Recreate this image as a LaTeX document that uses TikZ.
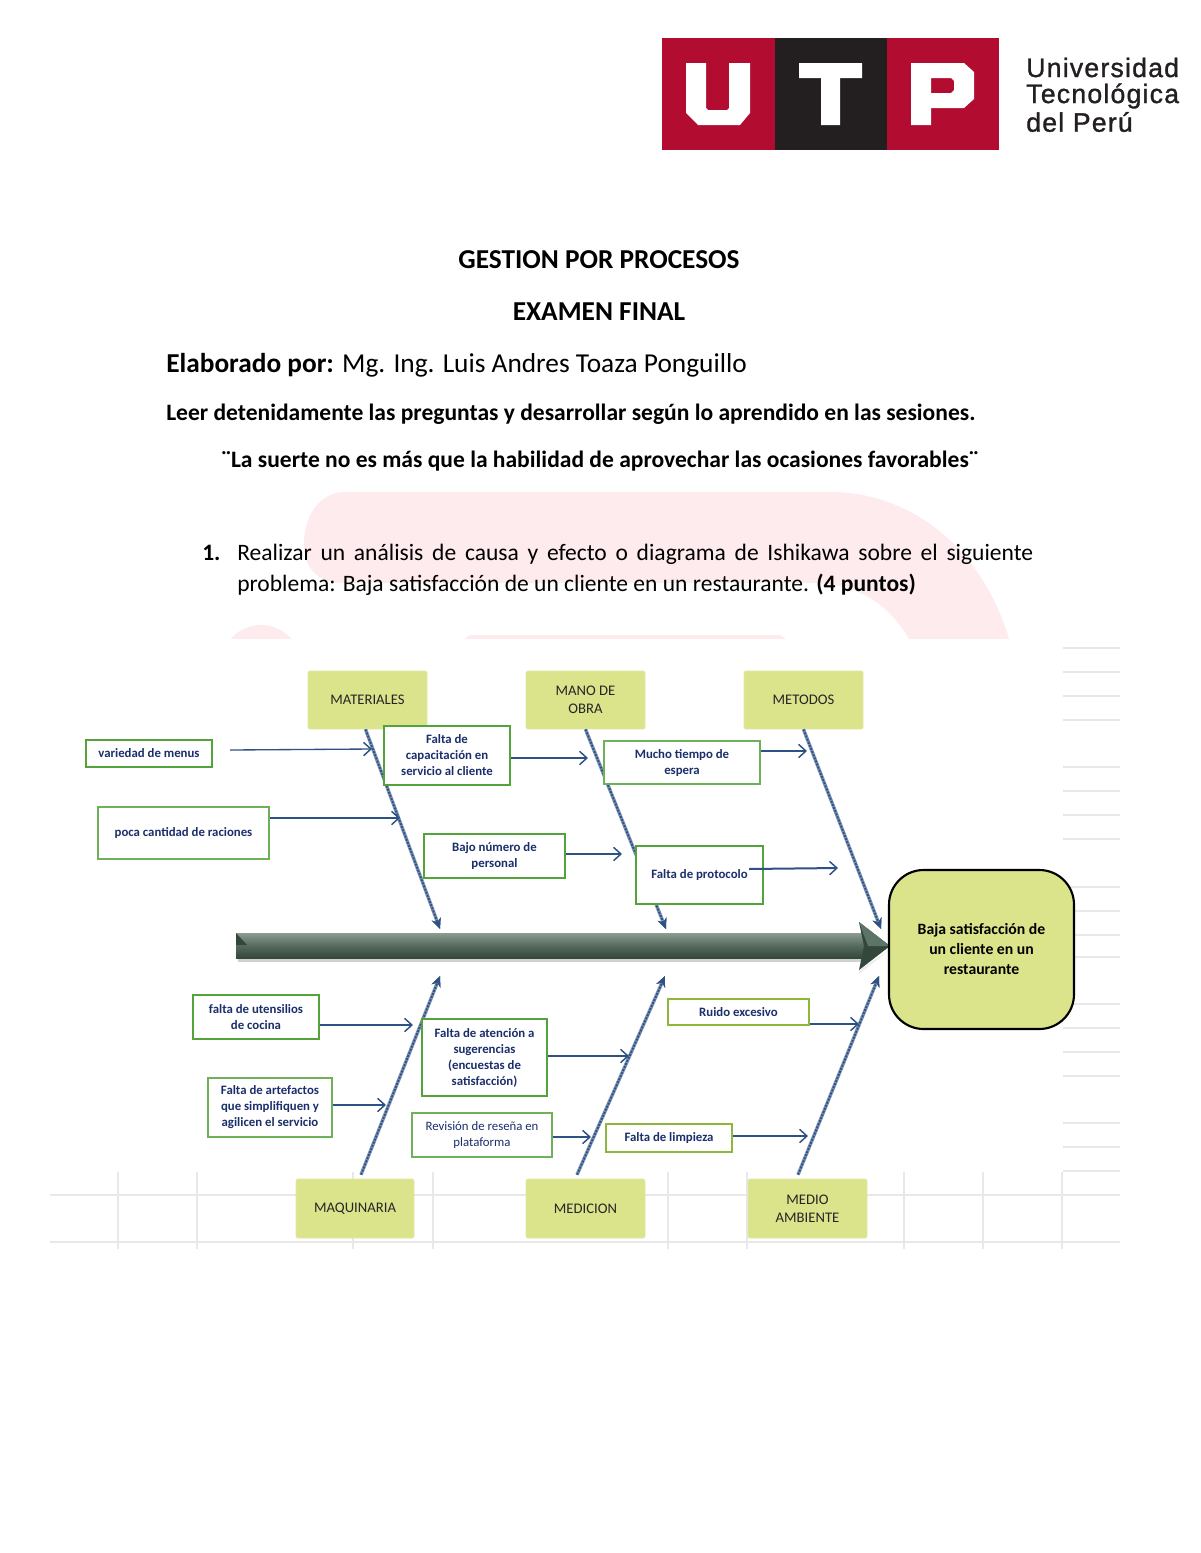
\documentclass[tikz,border=0pt]{standalone}
\usepackage{fontspec}
\setmainfont{Carlito}
\newfontfamily\logofont[FakeBold=1.2,LetterSpace=4.5]{Liberation Sans}
\usetikzlibrary{arrows.meta,calc}
\definecolor{wm}{HTML}{FEEBEE}
\definecolor{gridc}{HTML}{E8E8E8}
\definecolor{catfill}{HTML}{DBE38B}
\definecolor{navy}{HTML}{1B2F6B}
\definecolor{arrowc}{HTML}{2F5284}
\definecolor{boneL}{HTML}{8296B6}
\definecolor{greenA}{HTML}{54A33A}
\definecolor{greenB}{HTML}{8DB83C}
\definecolor{utpred}{HTML}{B20D30}
\definecolor{utpblack}{HTML}{231F20}
\definecolor{spineTop}{HTML}{8C9C90}
\definecolor{spineMid}{HTML}{566B5E}
\definecolor{spineDark}{HTML}{33473B}
\definecolor{spineFacet}{HTML}{5D7568}
\tikzset{
  catbox/.style={fill=catfill,draw=catfill!80!white,line width=0.5pt,rounded corners=1.5pt,align=center,
    font=\fontsize{11}{13.5}\selectfont,text=black!85,inner sep=0pt},
  causebox/.style={fill=white,draw=greenA,line width=1.7pt,align=center,inner sep=0pt,
    font=\fontsize{9.6}{12}\selectfont\bfseries,text=navy},
  causelight/.style={causebox,line width=1.1pt,draw=greenA!85!white},
  causelime/.style={causebox,line width=1.7pt,draw=greenB},
  boneline/.style={line width=2.6pt,draw=boneL,-{Stealth[length=8pt,width=7pt,color=arrowc]},
    postaction={draw=arrowc,line width=1.4pt,dash pattern=on 1.6pt off 0.9pt}},
  twig/.style={draw=arrowc,line width=1.5pt,-{Straight Barb[length=5.5pt,width=10pt,line width=1.1pt]}},
  twigthin/.style={twig,line width=1pt},
  grline/.style={draw=gridc,line width=0.9pt},
  headtext/.style={font=\fontsize{20.5}{24}\selectfont\bfseries,inner sep=0pt,text=black},
  logotext/.style={font=\logofont\fontsize{20}{20}\selectfont,text=utpblack,anchor=west,inner sep=0pt},
  logoglyph/.style={fill=white,draw=none}
}
% \pbox{name}{style}{x1}{y1}{x2}{y2}{text}
\newcommand{\pbox}[7]{%
  \pgfmathsetmacro{\cxa}{(#3+#5)/2}\pgfmathsetmacro{\cya}{(#4+#6)/2}%
  \pgfmathsetmacro{\wa}{(#5-#3)*0.75}\pgfmathsetmacro{\ha}{(#6-#4)*0.75}%
  \node[#2,minimum width=\wa pt,minimum height=\ha pt] (#1) at (\cxa,\cya) {#7};}
\begin{document}
\begin{tikzpicture}[x=0.75pt,y=-0.75pt]
\useasboundingbox (0,0) rectangle (1200,1553);
\fill[white] (0,0) rectangle (1200,1553);

% watermark, cut off by the diagram picture
\begin{scope}
\clip (0,480) rectangle (1200,638);
\fill[wm] (345,492) -- (830,492) .. controls (920,492) and (990,560) .. (1012,650)
  -- (915,650) .. controls (895,610) and (865,583) .. (810,583)
  -- (345,583) .. controls (320,583) and (304,570) .. (304,545) .. controls (304,515) and (320,492) .. (345,492) -- cycle;
\fill[wm] (261,665) circle (40);
\fill[wm] (450,650) -- (470,635) -- (780,635) -- (802,650) -- cycle;
\end{scope}

% logo
\fill[utpred] (662,38) rectangle (775,150);
\fill[utpblack] (775,38) rectangle (887,150);
\fill[utpred] (887,38) rectangle (999,150);
\fill[logoglyph] (686,63) -- (706,63) -- (706,108) -- (708,110) -- (727,110) -- (729,108) -- (729,63) -- (750,63)
  -- (750,113) -- (740,125) -- (698,125) -- (686,113) -- cycle;
\fill[logoglyph] (799,63) -- (862,63) -- (862,78) -- (840,78) -- (840,125) -- (821,125) -- (821,78) -- (799,78) -- cycle;
\fill[logoglyph,even odd rule] (911,63) -- (964,63) -- (974,72) -- (974,99) -- (964,108) -- (931,108) -- (931,125) -- (911,125) -- cycle
  (931,78) -- (951,78) -- (954,81) -- (954,90) -- (951,93) -- (931,93) -- cycle;
\node[logotext] (l1) at (1026,67.5) {Universidad};
\node[logotext] (l2) at (1026,96) {Tecnológica};
\node[logotext] (l3) at (1026,122) {del Perú};

% heading
\node[headtext] (t1) at (599,260) {GESTION POR PROCESOS};
\node[headtext] (t2) at (599,312) {EXAMEN FINAL};
\node[anchor=west,inner sep=0pt,font=\fontsize{20.5}{24}\selectfont] (t3) at (166,365) {\textbf{Elaborado por:} Mg. Ing. Luis Andres Toaza Ponguillo};
\node[anchor=west,inner sep=0pt,font=\fontsize{17.65}{20}\selectfont\bfseries] (t4) at (166,414) {Leer detenidamente las preguntas y desarrollar según lo aprendido en las sesiones.};
\node[anchor=west,inner sep=0pt,font=\fontsize{17.65}{20}\selectfont\bfseries] (t5) at (221,461) {¨La suerte no es más que la habilidad de aprovechar las ocasiones favorables¨};
\node[anchor=west,inner sep=0pt,font=\fontsize{17.65}{20}\selectfont\bfseries] (q1) at (202,553) {1.};
\node[anchor=north west,inner sep=0pt,text width=597pt,font=\fontsize{17.65}{23.2}\selectfont,align=justify] (q2) at (237,544) {Realizar un análisis de causa y efecto o diagrama de Ishikawa sobre el siguiente\linebreak problema: Baja satisfacción de un cliente en un restaurante. \textbf{(4 puntos)}};

% spreadsheet gridlines
\foreach \yy in {648,672,696,720,767,791,815,839,887,911,935,957,1004,1028,1052,1076,1123,1147,1171}
  \draw[grline] (1063,\yy) -- (1120,\yy);
\foreach \yy in {1195,1242}
  \draw[grline] (50,\yy) -- (1120,\yy);
\foreach \xx in {118,197,353,433,668,747,904,983,1062}
  \draw[grline] (\xx,1172) -- (\xx,1249);

% category boxes
\pbox{mat}{catbox}{308}{671}{427}{729}{MATERIALES}
\pbox{man}{catbox}{526}{671}{645}{729}{MANO DE\\OBRA}
\pbox{met}{catbox}{744}{671}{863}{729}{METODOS}
\pbox{maq}{catbox}{296}{1179}{414}{1238}{MAQUINARIA}
\pbox{med}{catbox}{526}{1179}{645}{1238}{MEDICION}
\pbox{amb}{catbox}{748}{1179}{867}{1238}{MEDIO\\AMBIENTE}

% free ends of the bones
\coordinate (tmat) at (440,929);
\coordinate (tman) at (666,929);
\coordinate (tmet) at (881,929);
\coordinate (tmaq) at (440,976);
\coordinate (tmed) at (665,976);
\coordinate (tamb) at (879,976);
\draw[boneline] ($(mat.south)+(-2,0)$) -- (tmat);
\draw[boneline] (man.south) -- (tman);
\draw[boneline] (met.south) -- (tmet);
\draw[boneline] ($(maq.north)+(6,-4)$) -- (tmaq);
\draw[boneline] ($(med.north)+(-8.5,-4)$) -- (tmed);
\draw[boneline] ($(amb.north)+(-9.5,-4)$) -- (tamb);

% spine
\fill[black!40,opacity=0.45] (238,957) rectangle (862,962);
\fill[black!35,opacity=0.2] (859,970) -- (892,948) -- (859,974) -- cycle;
\shade[top color=spineTop,bottom color=spineDark,middle color=spineMid] (236,933) rectangle (870,958);
\fill[spineDark] (236,933) -- (247,945) -- (236,945) -- cycle;
\fill[spineDark] (859,922) -- (890,946) -- (859,970) -- (864,946) -- cycle;
\fill[spineFacet] (859,922) -- (890,946) -- (868,946) -- cycle;

% effect
\pbox{eff}{draw=black,line width=1.6pt,fill=catfill,rounded corners=26pt,align=center,inner sep=0pt,
  font=\fontsize{11.8}{15}\selectfont\bfseries,text=black}{889}{870}{1074}{1029}{Baja satisfacción de\\un cliente en un\\restaurante}

% cause boxes
\pbox{c1}{causebox}{86}{740}{212}{767}{variedad de menus}
\pbox{c2}{causelight}{98}{807}{269}{859}{poca cantidad de raciones}
\pbox{c3}{causebox}{384}{726}{510}{785}{Falta de\\capacitación en\\servicio al cliente}
\pbox{c4}{causebox}{424}{834}{565}{878}{Bajo número de\\personal}
\pbox{c5}{causelight}{604}{741}{760}{784}{Mucho tiempo de\\espera}
\pbox{c6}{causebox}{636}{846}{763}{904}{Falta de protocolo}
\pbox{c7}{causebox}{193}{995}{319}{1039}{falta de utensilios\\de cocina}
\pbox{c8}{causelight}{208}{1078}{332}{1137}{Falta de artefactos\\que simplifiquen y\\agilicen el servicio}
\pbox{c9}{causebox}{422}{1019}{547}{1096}{Falta de atención a\\sugerencias\\(encuestas de\\satisfacción)}
\pbox{c10}{causelight,font=\fontsize{9.6}{12}\selectfont}{412}{1113}{552}{1157}{Revisión de reseña en\\plataforma}
\pbox{c11}{causelime}{668}{999}{809}{1025}{Ruido excesivo}
\pbox{c12}{causelime,line width=1.2pt}{606}{1124}{732}{1152}{Falta de limpieza}

% twig tips
\coordinate (a0) at (230,750);
\coordinate (a1) at (372,749);
\coordinate (a2) at (400,818);
\coordinate (a3) at (588,758);
\coordinate (a4) at (622,854);
\coordinate (a5) at (807,751);
\coordinate (a6) at (838,868);
\coordinate (a7) at (413,1025);
\coordinate (a8) at (386,1105);
\coordinate (a9) at (629,1056);
\coordinate (a10) at (591,1137);
\coordinate (a11) at (859,1024);
\coordinate (a12) at (808,1136);
\draw[twigthin] (a0) -- (a1);
\draw[twig] (c2.east |- a2) -- (a2);
\draw[twig] (c3.east |- a3) -- (a3);
\draw[twigthin] (c4.east |- a4) -- (a4);
\draw[twigthin] (c5.east |- a5) -- (a5);
\draw[twig] ($(c6.east)+(-15,-6)$) -- (a6);
\draw[twig] (c7.east |- a7) -- (a7);
\draw[twigthin] (c8.east |- a8) -- (a8);
\draw[twig] (c9.east |- a9) -- (a9);
\draw[twigthin] (c10.east |- a10) -- (a10);
\draw[twigthin] (c11.east |- a11) -- (a11);
\draw[twigthin] (c12.east |- a12) -- (a12);
\end{tikzpicture}
\end{document}
